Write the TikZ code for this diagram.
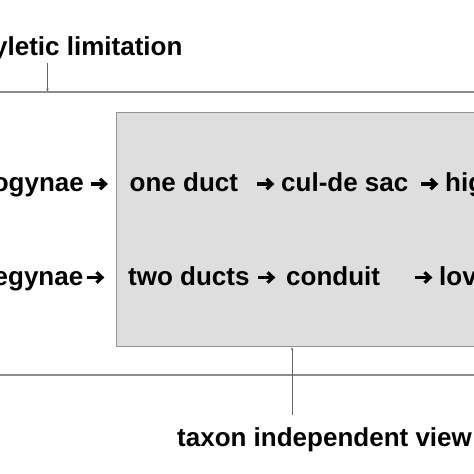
\documentclass[tikz,border=0pt]{standalone}
\usepackage{fontspec}
\setmainfont{Liberation Sans}
\usetikzlibrary{arrows.meta}
\begin{document}
\begin{tikzpicture}[x=1pt,y=-1pt,
  txt/.style={inner sep=0pt,font=\fontsize{26}{30}\selectfont\bfseries,text=black},
  rule/.style={draw=black!45,line width=1.3pt},
  pointer/.style={draw=black!60,line width=0.6pt,-{Stealth[length=3pt,width=2.5pt]}},
  panel/.style={draw=black!42,line width=1.3pt,fill=black!13},
  glyph/.style={draw=black,line width=3.2pt,miter limit=10},
  rarr/.pic={\draw[glyph] (0,0) -- (14,0);
             \draw[glyph,line join=miter] (9.5,-5.2) -- (15,0) -- (9.5,5.2);}]
\useasboundingbox (0,0) rectangle (474,474);
\clip (0,0) rectangle (474,474);
% lines and panel
\draw[rule] (-5,92) coordinate (tl) -- (480,92) coordinate (tr);
\draw[rule] (-5,375) coordinate (bl) -- (480,375) coordinate (br);
\node[panel,anchor=north west,minimum width=370pt,minimum height=234pt,inner sep=0pt] (box) at (116,112) {};
% top label and pointer
\node[txt,anchor=base west] (phy) at (-7,55) {yletic limitation};
\coordinate (ptop) at (47.5,63);
\coordinate (pline) at (47.5,91.5);
\draw[pointer] (ptop) -- (pline);
% row 1
\node[txt,anchor=base east] (a1) at (84,191.7) {ogynae};
\pic at (90.5,184) {rarr};
\node[txt,anchor=base west] (b1) at (129.5,191.7) {one duct};
\pic at (257,184) {rarr};
\node[txt,anchor=base west] (c1) at (281,191.7) {cul-de sac};
\pic at (421,184) {rarr};
\node[txt,anchor=base west] (d1) at (445,191.7) {hig};
% row 2
\node[txt,anchor=base east] (a2) at (83.5,285) {egynae};
\pic at (87,277.5) {rarr};
\node[txt,anchor=base west] (b2) at (128,285) {two ducts};
\pic at (258,277.5) {rarr};
\node[txt,anchor=base west] (c2) at (286,285) {conduit};
\pic at (415,277.5) {rarr};
\node[txt,anchor=base west] (d2) at (439,285) {lov};
% bottom label and pointer
\node[txt,anchor=base west] (tax) at (177,446.7) {taxon independent view};
\coordinate (pbot) at (292,415);
\draw[pointer] (pbot) -- (box.south -| pbot);
\end{tikzpicture}
\end{document}
